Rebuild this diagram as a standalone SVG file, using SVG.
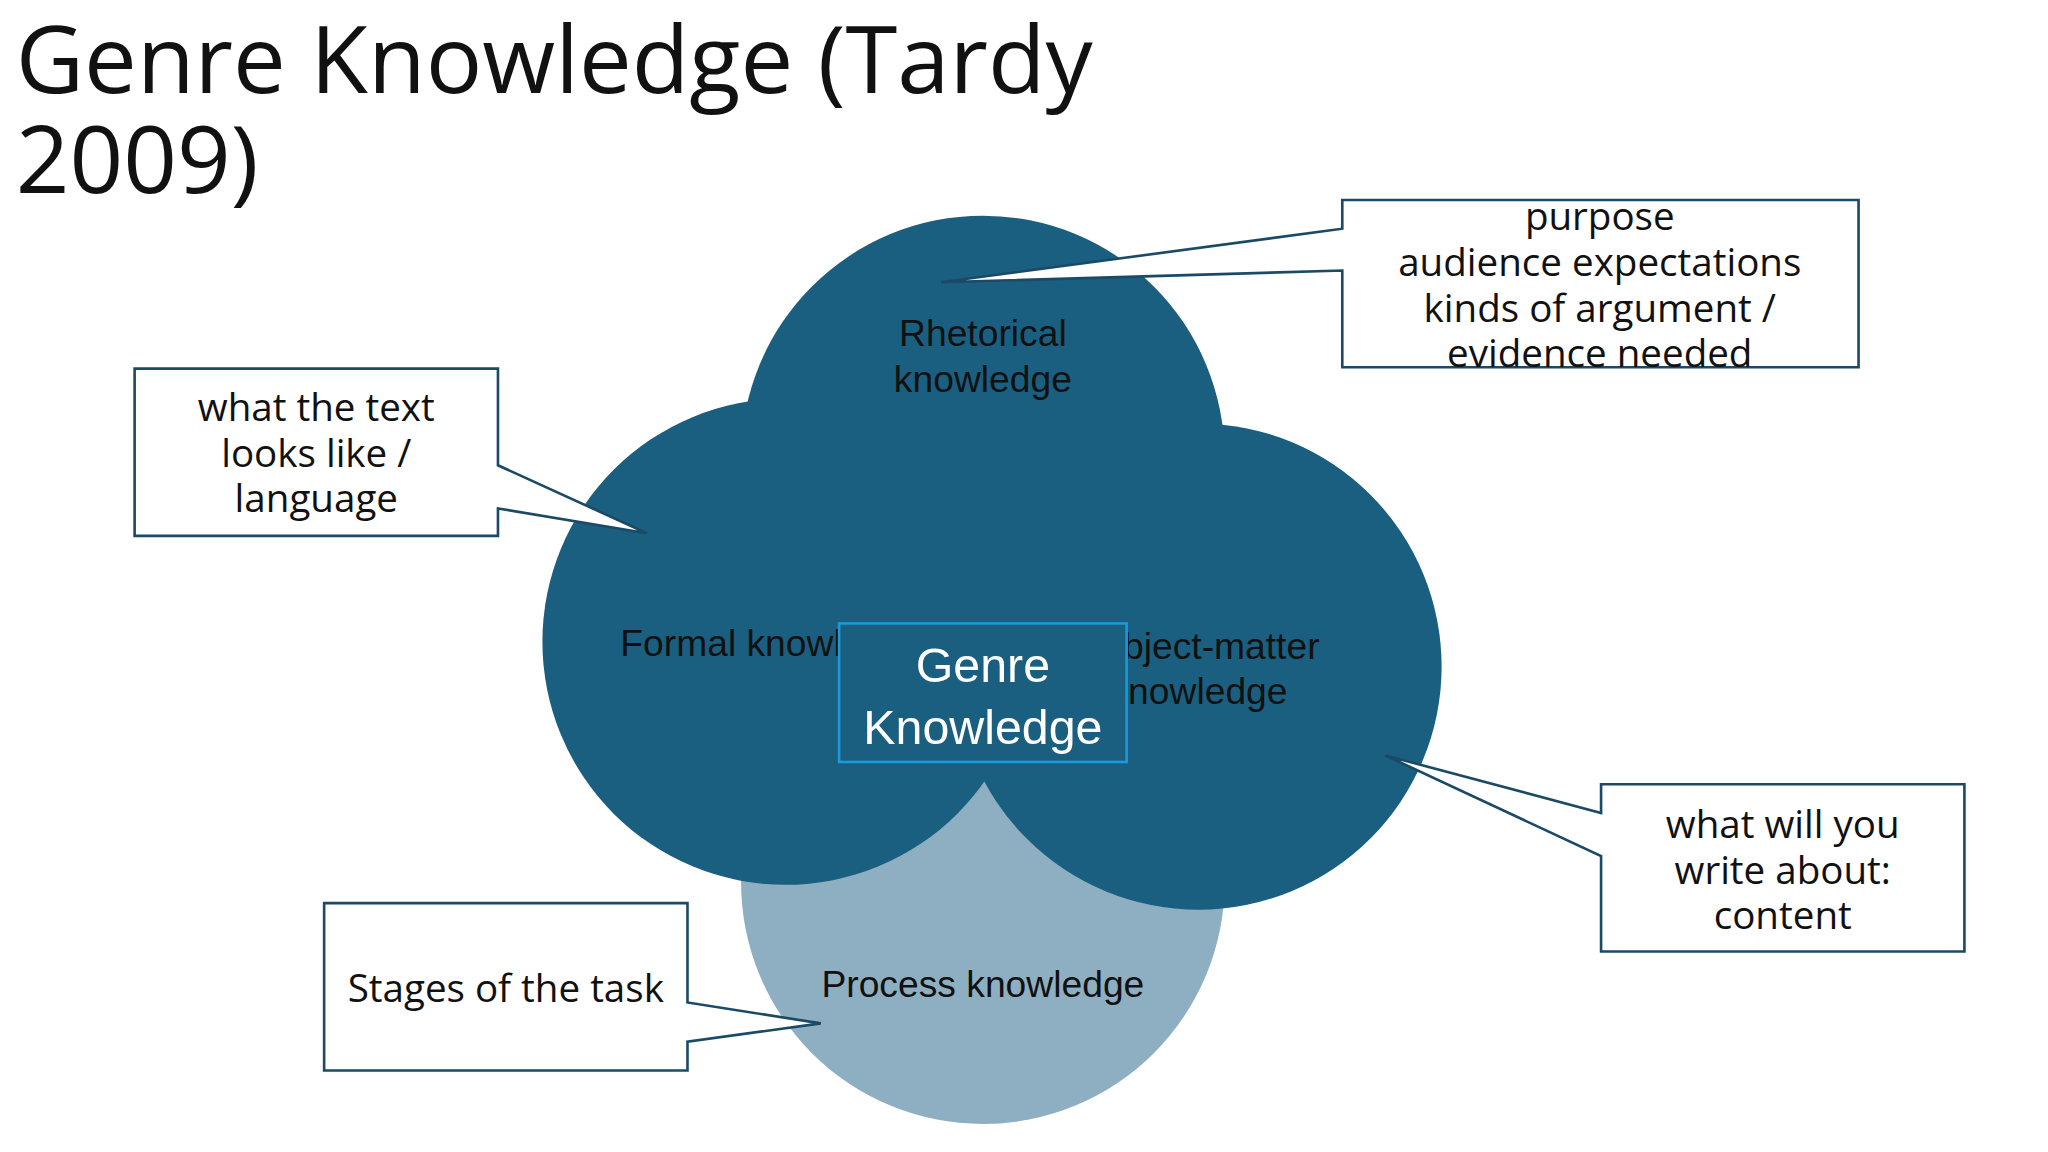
<svg xmlns="http://www.w3.org/2000/svg" width="2048" height="1152" viewBox="0 0 2048 1152">
<style>
.dk{fill:#1a5f80}
.lt{fill:#8eafc1}
.co{fill:#fff;stroke:#1a4a66;stroke-width:2}
.ct{font-family:"Open Sans","Noto Sans",sans-serif;font-size:29.5px;fill:#111;text-anchor:middle}
.cl{font-family:"Liberation Sans",Arial,sans-serif;font-size:28.5px;fill:#111;text-anchor:middle}
</style>
<rect width="2048" height="1152" fill="#fff"/>
<g transform="scale(1.307)">
<g id="title"><text font-family="'Open Sans','Noto Sans',sans-serif" font-size="72" fill="#111"><tspan x="12" y="71">Genre Knowledge (Tardy</tspan><tspan x="12" y="148">2009)</tspan></text></g>
<g id="process"><circle class="lt" cx="752" cy="675" r="185"/><text class="cl" x="752" y="763">Process knowledge</text></g>
<g id="rhetorical"><circle class="dk" cx="752" cy="350" r="185"/></g>
<g id="formal"><circle class="dk" cx="601" cy="491" r="186"/></g>
<g id="subject"><circle class="dk" cx="917" cy="510" r="186"/></g>
<g id="labels">
<text class="cl" x="752" y="265">Rhetorical</text><text class="cl" x="752" y="300">knowledge</text>
<text class="cl" x="591" y="502">Formal knowledge</text>
<text class="cl" x="917" y="504">Subject-matter</text><text class="cl" x="917" y="539">knowledge</text>
</g>
<g id="center"><rect x="642" y="477" width="220" height="106" fill="#1a5f80" stroke="#1a9ad6" stroke-width="2"/><text font-family="'Liberation Sans',Arial,sans-serif" font-size="37" fill="#fff" text-anchor="middle"><tspan x="752" y="522">Genre</tspan><tspan x="752" y="569">Knowledge</tspan></text></g>
<g id="callout-rhetorical"><path class="co" d="M1027,153H1422V281H1027V207L720,216L1027,175Z"/><text class="ct"><tspan x="1224" y="176">purpose</tspan><tspan x="1224" y="211">audience expectations</tspan><tspan x="1224" y="246">kinds of argument /</tspan><tspan x="1224" y="281">evidence needed</tspan></text></g>
<g id="callout-formal"><path class="co" d="M103,282H381V356L495,408L381,389V410H103Z"/><text class="ct"><tspan x="242" y="322">what the text</tspan><tspan x="242" y="357">looks like /</tspan><tspan x="242" y="392">language</tspan></text></g>
<g id="callout-subject"><path class="co" d="M1225,600H1503V728H1225V655L1060,578L1225,622Z"/><text class="ct"><tspan x="1364" y="641">what will you</tspan><tspan x="1364" y="676">write about:</tspan><tspan x="1364" y="711">content</tspan></text></g>
<g id="callout-process"><path class="co" d="M248,691H526V767L628,783L526,797V819H248Z"/><text class="ct" x="387" y="767">Stages of the task</text></g>
</g>
</svg>
